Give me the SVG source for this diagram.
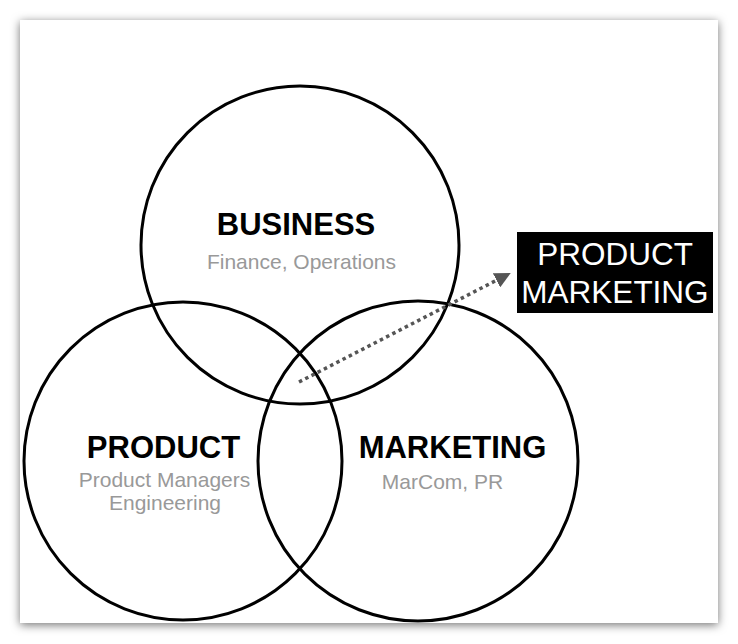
<svg xmlns="http://www.w3.org/2000/svg" width="738" height="644" viewBox="0 0 738 644">
<style>
.ring{fill:none;stroke:#000;stroke-width:3}
.title{font-family:"Liberation Sans",Arial,sans-serif;font-weight:bold;font-size:31px;fill:#000;text-anchor:middle}
.sub{font-family:"Liberation Sans",Arial,sans-serif;font-size:21px;fill:#999;text-anchor:middle}
.callout{font-family:"Liberation Sans",Arial,sans-serif;font-size:31.5px;fill:#fff;text-anchor:middle}
</style>
<defs>
<filter id="shadow" x="-10%" y="-10%" width="120%" height="120%">
<feDropShadow dx="0" dy="2" stdDeviation="5" flood-color="#000" flood-opacity="0.55"/>
</filter>
<marker id="arrow" markerUnits="userSpaceOnUse" markerWidth="16" markerHeight="16" refX="0" refY="7" orient="auto" viewBox="0 0 14 14">
<path d="M0,0 L14,7 L0,14 Z" fill="#555"/>
</marker>
</defs>
<rect x="0" y="0" width="738" height="644" fill="#fff"/>
<rect x="20" y="20" width="698" height="603" fill="#fff" filter="url(#shadow)"/>
<g id="business">
<circle class="ring" cx="300" cy="245" r="159"/>
<text class="title" x="296" y="235">BUSINESS</text>
<text class="sub" x="301.5" y="269" font-size="20.5">Finance, Operations</text>
</g>
<g id="product">
<circle class="ring" cx="183" cy="461" r="159"/>
<text class="title" x="163.5" y="458">PRODUCT</text>
<text class="sub" x="164.5" y="487">Product Managers</text>
<text class="sub" x="165" y="510">Engineering</text>
</g>
<g id="marketing">
<circle class="ring" cx="418" cy="461" r="160"/>
<text class="title" x="452.5" y="458">MARKETING</text>
<text class="sub" x="442.5" y="489">MarCom, PR</text>
</g>
<g id="product-marketing">
<rect x="517" y="232" width="196" height="81" fill="#000"/>
<text class="callout" x="615" y="265">PRODUCT</text>
<text class="callout" x="615" y="303">MARKETING</text>
</g>
<g id="connectors">
<line x1="299" y1="382" x2="496.5" y2="280.3" stroke="#555" stroke-width="3.5" stroke-dasharray="3.5 3.5" marker-end="url(#arrow)"/>
</g>
</svg>
